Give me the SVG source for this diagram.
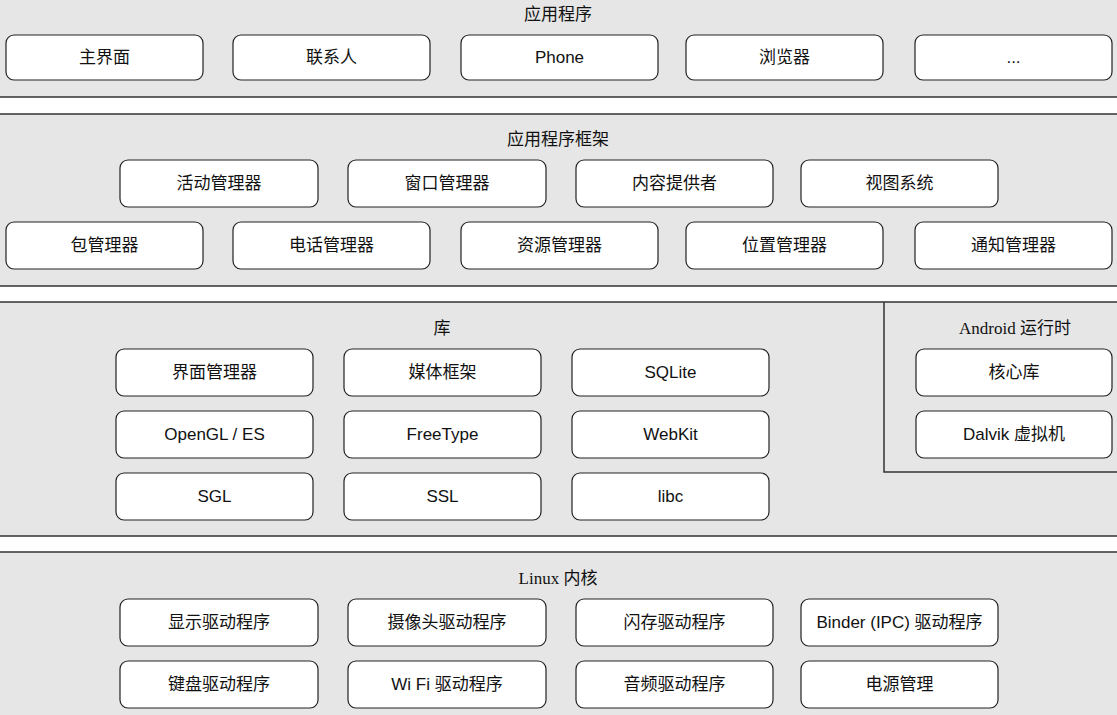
<svg xmlns="http://www.w3.org/2000/svg" width="1117" height="715" viewBox="0 0 1117 715">
<style>
.band{fill:#e6e6e6}
.ln{stroke:#333;stroke-width:1.5;fill:none}
.b{fill:#fff;stroke:#222;stroke-width:1.2}
text{font-family:"Liberation Sans","Noto Sans CJK SC",sans-serif;font-size:17px;fill:#111;text-anchor:middle;dominant-baseline:central}
.t{font-family:"Liberation Serif","Noto Sans CJK SC",serif;font-size:17px}
</style>
<rect width="1117" height="715" fill="#fff"/>
<rect class="band" x="0" y="0" width="1117" height="97"/>
<rect class="band" x="0" y="114" width="1117" height="172"/>
<rect class="band" x="0" y="302" width="1117" height="234"/>
<rect class="band" x="0" y="552" width="1117" height="163"/>
<g id="connectors">
<path class="ln" d="M0 97H1117M0 114H1117M0 286H1117M0 302H1117M0 536H1117M0 552H1117M884 302V472H1117"/>
</g>
<g id="titles">
<text class="t" x="558" y="14">应用程序</text>
<text class="t" x="558" y="139">应用程序框架</text>
<text class="t" x="442" y="328">库</text>
<text class="t" x="1015" y="328">Android 运行时</text>
<text class="t" x="558" y="578">Linux 内核</text>
</g>
<g id="n1"><rect class="b" x="6" y="35" width="197" height="45" rx="8"/><text x="104.5" y="57.5">主界面</text></g>
<g id="n2"><rect class="b" x="233" y="35" width="197" height="45" rx="8"/><text x="331.5" y="57.5">联系人</text></g>
<g id="n3"><rect class="b" x="461" y="35" width="197" height="45" rx="8"/><text x="559.5" y="57.5">Phone</text></g>
<g id="n4"><rect class="b" x="686" y="35" width="197" height="45" rx="8"/><text x="784.5" y="57.5">浏览器</text></g>
<g id="n5"><rect class="b" x="915" y="35" width="197" height="45" rx="8"/><text x="1013.5" y="57.5">...</text></g>
<g id="f1"><rect class="b" x="120" y="160" width="198" height="47" rx="8"/><text x="219" y="183.5">活动管理器</text></g>
<g id="f2"><rect class="b" x="348" y="160" width="198" height="47" rx="8"/><text x="447" y="183.5">窗口管理器</text></g>
<g id="f3"><rect class="b" x="576" y="160" width="197" height="47" rx="8"/><text x="674.5" y="183.5">内容提供者</text></g>
<g id="f4"><rect class="b" x="801" y="160" width="197" height="47" rx="8"/><text x="899.5" y="183.5">视图系统</text></g>
<g id="f5"><rect class="b" x="6" y="222" width="197" height="47" rx="8"/><text x="104.5" y="245.5">包管理器</text></g>
<g id="f6"><rect class="b" x="233" y="222" width="197" height="47" rx="8"/><text x="331.5" y="245.5">电话管理器</text></g>
<g id="f7"><rect class="b" x="461" y="222" width="197" height="47" rx="8"/><text x="559.5" y="245.5">资源管理器</text></g>
<g id="f8"><rect class="b" x="686" y="222" width="197" height="47" rx="8"/><text x="784.5" y="245.5">位置管理器</text></g>
<g id="f9"><rect class="b" x="915" y="222" width="197" height="47" rx="8"/><text x="1013.5" y="245.5">通知管理器</text></g>
<g id="l1"><rect class="b" x="116" y="349" width="197" height="47" rx="8"/><text x="214.5" y="372.5">界面管理器</text></g>
<g id="l2"><rect class="b" x="344" y="349" width="197" height="47" rx="8"/><text x="442.5" y="372.5">媒体框架</text></g>
<g id="l3"><rect class="b" x="572" y="349" width="197" height="47" rx="8"/><text x="670.5" y="372.5">SQLite</text></g>
<g id="l4"><rect class="b" x="116" y="411" width="197" height="47" rx="8"/><text x="214.5" y="434.5">OpenGL / ES</text></g>
<g id="l5"><rect class="b" x="344" y="411" width="197" height="47" rx="8"/><text x="442.5" y="434.5">FreeType</text></g>
<g id="l6"><rect class="b" x="572" y="411" width="197" height="47" rx="8"/><text x="670.5" y="434.5">WebKit</text></g>
<g id="l7"><rect class="b" x="116" y="473" width="197" height="47" rx="8"/><text x="214.5" y="496.5">SGL</text></g>
<g id="l8"><rect class="b" x="344" y="473" width="197" height="47" rx="8"/><text x="442.5" y="496.5">SSL</text></g>
<g id="l9"><rect class="b" x="572" y="473" width="197" height="47" rx="8"/><text x="670.5" y="496.5">libc</text></g>
<g id="r1"><rect class="b" x="916" y="349" width="196" height="47" rx="8"/><text x="1014" y="372.5">核心库</text></g>
<g id="r2"><rect class="b" x="916" y="411" width="196" height="47" rx="8"/><text x="1014" y="434.5">Dalvik 虚拟机</text></g>
<g id="k1"><rect class="b" x="120" y="599" width="198" height="47" rx="8"/><text x="219" y="622.5">显示驱动程序</text></g>
<g id="k2"><rect class="b" x="348" y="599" width="198" height="47" rx="8"/><text x="447" y="622.5">摄像头驱动程序</text></g>
<g id="k3"><rect class="b" x="576" y="599" width="197" height="47" rx="8"/><text x="674.5" y="622.5">闪存驱动程序</text></g>
<g id="k4"><rect class="b" x="801" y="599" width="197" height="47" rx="8"/><text x="899.5" y="622.5">Binder (IPC) 驱动程序</text></g>
<g id="k5"><rect class="b" x="120" y="661" width="198" height="47" rx="8"/><text x="219" y="684.5">键盘驱动程序</text></g>
<g id="k6"><rect class="b" x="348" y="661" width="198" height="47" rx="8"/><text x="447" y="684.5">Wi Fi 驱动程序</text></g>
<g id="k7"><rect class="b" x="576" y="661" width="197" height="47" rx="8"/><text x="674.5" y="684.5">音频驱动程序</text></g>
<g id="k8"><rect class="b" x="801" y="661" width="197" height="47" rx="8"/><text x="899.5" y="684.5">电源管理</text></g>
</svg>
